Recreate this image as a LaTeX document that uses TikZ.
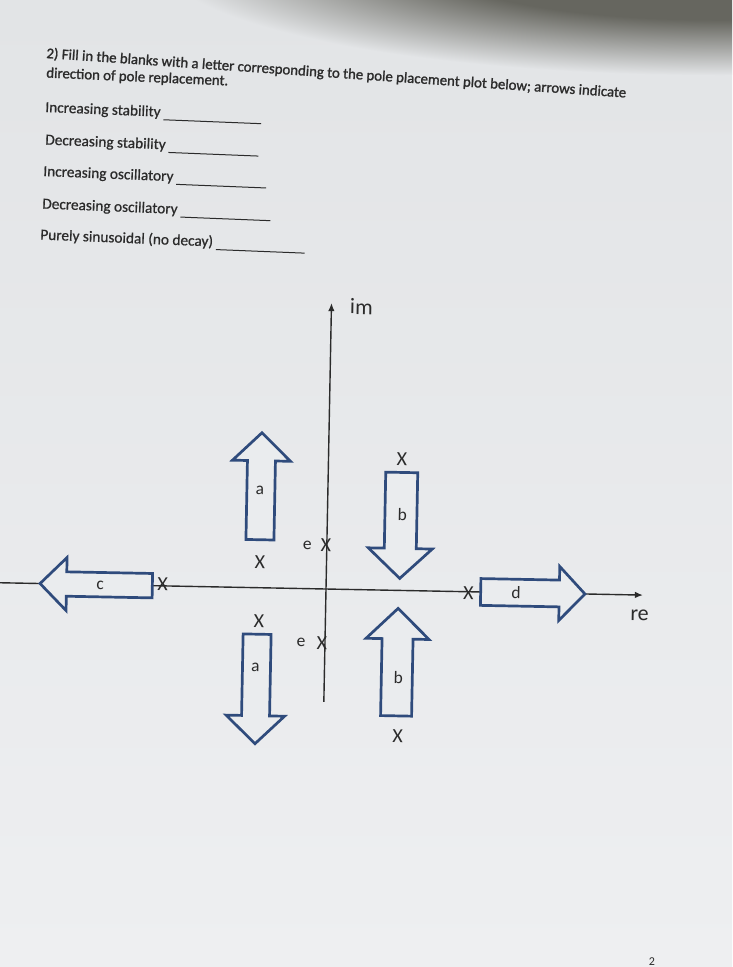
\documentclass[tikz,border=0pt]{standalone}
\usepackage{fontspec}
\setmainfont{Carlito}
\newfontfamily\headfont{Carlito}[FakeBold=1.4]
\newfontfamily\qfont{Carlito}[FakeBold=0.7]
\usetikzlibrary{arrows.meta}
\definecolor{papertop}{HTML}{E2E4E6}
\definecolor{paperbot}{HTML}{EEEFF1}
\definecolor{papermid}{HTML}{EAECEE}
\definecolor{shadowc}{HTML}{66665F}
\definecolor{ink}{HTML}{2B2B2B}
\definecolor{navy}{HTML}{2F4B7C}
\pgfdeclareradialshading{papershadow}{\pgfpoint{0bp}{0bp}}{color(0bp)=(shadowc); color(13bp)=(shadowc); color(25bp)=(papertop); color(50bp)=(papertop)}
\begin{document}
\begin{tikzpicture}[x=1pt,y=-1pt,
  blockarrow/.style={draw=navy, line width=2.7pt, fill=papermid, line join=miter},
  axisline/.style={draw=ink, line width=1.4pt},
  pole/.style={font=\fontsize{20}{20}\selectfont, text=ink, inner sep=0pt},
  tag/.style={font=\fontsize{17.5}{17.5}\selectfont, text=ink, inner sep=0pt},
  axislabel/.style={font=\fontsize{22}{22}\selectfont, text=ink, inner sep=0pt},
  qline/.style={font=\qfont\fontsize{15.3}{15.3}\selectfont, text=ink, inner sep=0pt, anchor=base west, rotate=-2.3},
  headline/.style={font=\headfont\fontsize{14.8}{14.8}\selectfont, text=ink, inner sep=0pt, anchor=base west}]
\useasboundingbox (0,0) rectangle (732,967);
\shade[top color=papertop, bottom color=paperbot] (0,0) rectangle (732,967);
\begin{scope}
  \clip (0,0) rectangle (732,967);
  \shade[shading=papershadow] (720,-40) ellipse [x radius=560, y radius=115];
\end{scope}

% question text
\node[headline, rotate=-3.9] (head1) at (46,58) {2) Fill in the blanks with a letter corresponding to the pole placement plot below; arrows indicate};
\node[headline, rotate=-2.5] (head2) at (46,77.5) {direction of pole replacement.};
\node[qline] (q1) at (45,112) {Increasing stability\hspace{3pt}\rule[-3.5pt]{98pt}{1pt}};
\node[qline] (q2) at (45,144.5) {Decreasing stability\hspace{3pt}\rule[-3.5pt]{90pt}{1pt}};
\node[qline] (q3) at (43,176) {Increasing oscillatory\hspace{3pt}\rule[-3.5pt]{90pt}{1pt}};
\node[qline] (q4) at (42,208.5) {Decreasing oscillatory\hspace{3pt}\rule[-3.5pt]{90pt}{1pt}};
\node[qline] (q5) at (40,239.5) {Purely sinusoidal (no decay)\hspace{3pt}\rule[-3.5pt]{89pt}{1pt}};

% pole placement plot
\begin{scope}[shift={(326,589)}, rotate=-1.1, transform shape]
  \coordinate (xl) at (-326,0);
  \coordinate (xr) at (317,0);
  \coordinate (yt) at (0,-286);
  \coordinate (yb) at (0,113);
  \draw[axisline, -{Latex[length=8pt,width=6.5pt]}] (xl) -- (xr);
  \draw[axisline, -{Latex[length=8pt,width=6.5pt]}] (yb) -- (yt);
  \node[axislabel] (im) at (30,-283) {im};
  \node[axislabel] (re) at (314,20) {re};

  % a (upper, upward)
  \draw[blockarrow] (-81,-48) -- (-81,-127) -- (-96,-127) -- (-67,-155) -- (-38,-127) -- (-53,-127) -- (-53,-48) -- cycle;
  \node[tag] (a1) at (-68,-97) {a};
  \node[pole] (pa1) at (-66.5,-26) {X};
  % b (upper, downward)
  \draw[blockarrow] (57.5,-118) -- (89.5,-118) -- (89.5,-42) -- (105.5,-42) -- (73.5,-12) -- (41.5,-42) -- (57.5,-42) -- cycle;
  \node[tag] (b1) at (75,-76) {b};
  \node[pole] (pb1) at (73.5,-131) {X};
  % a (lower, downward)
  \draw[blockarrow] (-82,46.5) -- (-54,46.5) -- (-54,128) -- (-39,128) -- (-68,156) -- (-97.5,128) -- (-82,128) -- cycle;
  \node[tag] (a2) at (-69,80) {a};
  \node[pole] (pa2) at (-66.5,33) {X};
  % b (lower, upward)
  \draw[blockarrow] (57,125.5) -- (57,48.5) -- (41,48.5) -- (72.5,18) -- (104,48.5) -- (88,48.5) -- (88,125.5) -- cycle;
  \node[tag] (b2) at (74,87) {b};
  \node[pole] (pb2) at (74.5,146) {X};
  % c (leftward)
  \draw[blockarrow] (-173.7,-12.2) -- (-259.5,-12.2) -- (-259.5,-26.5) -- (-286,0) -- (-259.5,26.5) -- (-259.5,12.2) -- (-173.7,12.2) -- cycle;
  \node[tag] (c) at (-226,1) {c};
  \node[pole] (pc) at (-163.5,-1.5) {X};
  % d (rightward)
  \draw[blockarrow] (154.7,-13.4) -- (233.3,-13.4) -- (233.3,-27) -- (259,0) -- (233.3,27) -- (233.3,13.4) -- (154.7,13.4) -- cycle;
  \node[tag] (d) at (190,0) {d};
  \node[pole] (pd) at (142.5,1) {X};
  % e (on imaginary axis)
  \node[pole] (pe1) at (-1,-44) {X};
  \node[tag] (e1) at (-19.5,-43) {e};
  \node[pole] (pe2) at (-3,54) {X};
  \node[tag] (e2) at (-24,54) {e};
\end{scope}

\node[font=\fontsize{12}{12}\selectfont, text=ink, inner sep=0pt, anchor=south] (pg) at (652,966) {2};
\end{tikzpicture}
\end{document}
